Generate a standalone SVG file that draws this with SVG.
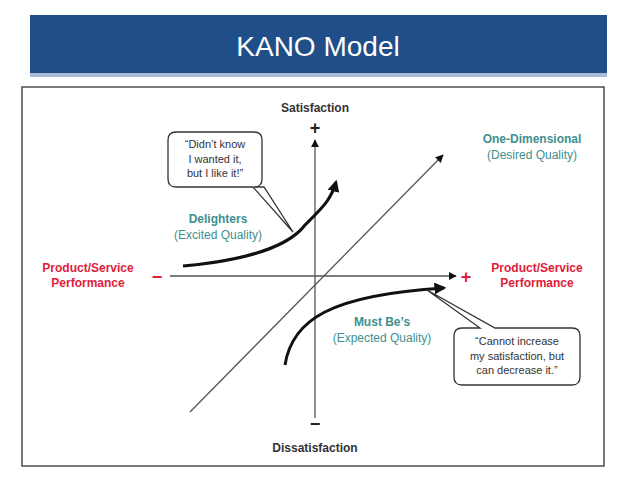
<svg xmlns="http://www.w3.org/2000/svg" width="638" height="479" viewBox="0 0 638 479">
<style>
text{font-family:"Liberation Sans",Arial,sans-serif}
.ax{stroke:#555;stroke-width:1.3;fill:none}
.cv{stroke:#111;stroke-width:3;fill:none}
.b{font-weight:bold;font-size:12px;fill:#333}
.red{font-weight:bold;font-size:12px;fill:#e0203a}
.tl{font-size:12px;fill:#3e9090}
.tb{font-weight:bold;font-size:12px;fill:#3e9090}
.q{font-size:11px;fill:#333}
.co{fill:#fff;stroke:#333;stroke-width:1.3}
.sg{font-weight:bold;font-size:18px;fill:#222}
</style>
<defs>
<marker id="a" viewBox="0 0 10 10" refX="9" refY="5" markerWidth="8" markerHeight="8" orient="auto" markerUnits="userSpaceOnUse"><path d="M0,0L10,5L0,10z" fill="#111"/></marker>
<marker id="c" viewBox="0 0 10 10" refX="8" refY="5" markerWidth="4" markerHeight="4" orient="auto"><path d="M0,0L10,5L0,10z" fill="#111"/></marker>
</defs>
<rect width="638" height="479" fill="#fff"/>
<g id="title"><rect x="30" y="15" width="577" height="62" fill="#1f4e88"/><rect x="30" y="73" width="577" height="4" fill="#a9bcd6"/><text x="318" y="56" text-anchor="middle" font-size="28" fill="#fff" font-family="Open Sans, sans-serif">KANO Model</text></g>
<rect x="22" y="87" width="582" height="379" fill="none" stroke="#333" stroke-width="1.3"/>
<g id="connectors">
<line class="ax" x1="315" y1="418" x2="315" y2="140" marker-end="url(#a)"/>
<line class="ax" x1="170" y1="276" x2="456" y2="276" marker-end="url(#a)"/>
<line class="ax" x1="190" y1="412" x2="443" y2="155" marker-end="url(#a)"/>
<path class="cv" d="M183,266 C250,260 290,245 305,225 C322,208 331,200 336,182" marker-end="url(#c)"/>
<path class="cv" d="M285,365 C292,320 330,295 444,288" marker-end="url(#c)"/>
</g>
<g id="axis-labels">
<text class="b" x="315" y="112" text-anchor="middle">Satisfaction</text>
<text class="sg" x="315" y="134" text-anchor="middle">+</text>
<text class="sg" x="315" y="430" text-anchor="middle">−</text>
<text class="b" x="315" y="452" text-anchor="middle">Dissatisfaction</text>
<text class="red" x="88" y="272" text-anchor="middle">Product/Service</text>
<text class="red" x="88" y="287" text-anchor="middle">Performance</text>
<text x="157" y="283" text-anchor="middle" font-size="18" font-weight="bold" fill="#e0203a">−</text>
<text x="466" y="283" text-anchor="middle" font-size="18" font-weight="bold" fill="#e0203a">+</text>
<text class="red" x="537" y="272" text-anchor="middle">Product/Service</text>
<text class="red" x="537" y="287" text-anchor="middle">Performance</text>
</g>
<g id="one-dimensional"><text class="tb" x="532" y="143" text-anchor="middle">One-Dimensional</text><text class="tl" x="532" y="159" text-anchor="middle">(Desired Quality)</text></g>
<g id="delighters"><text class="tb" x="218" y="223" text-anchor="middle">Delighters</text><text class="tl" x="218" y="239" text-anchor="middle">(Excited Quality)</text></g>
<g id="mustbes"><text class="tb" x="382" y="326" text-anchor="middle">Must Be’s</text><text class="tl" x="382" y="342" text-anchor="middle">(Expected Quality)</text></g>
<g id="callout1"><path class="co" d="M176,132 H254 Q262,132 262,140 V179 Q262,187 254,187 H264 L293,232 L253,187 H176 Q168,187 168,179 V140 Q168,132 176,132 Z"/><text class="q" x="215" y="148" text-anchor="middle">“Didn’t know</text><text class="q" x="215" y="163" text-anchor="middle">I wanted it,</text><text class="q" x="215" y="177" text-anchor="middle">but I like it!”</text></g>
<g id="callout2"><path class="co" d="M462,328 H480 L427,290 L495,328 H572 Q580,328 580,336 V377 Q580,385 572,385 H462 Q454,385 454,377 V336 Q454,328 462,328 Z"/><text class="q" x="517" y="345" text-anchor="middle">“Cannot increase</text><text class="q" x="517" y="360" text-anchor="middle">my satisfaction, but</text><text class="q" x="517" y="374" text-anchor="middle">can decrease it.”</text></g>
</svg>
